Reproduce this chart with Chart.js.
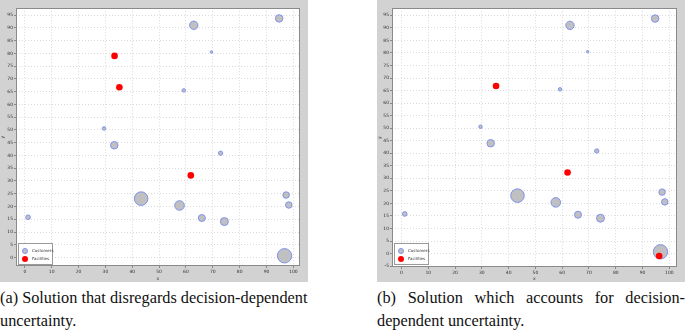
<!DOCTYPE html>
<html>
<head>
<meta charset="utf-8">
<script src="https://cdn.jsdelivr.net/npm/chart.js@4"></script>
<style>
  body { margin: 0; background: #fff; width: 685px; height: 333px; position: relative; overflow: hidden; }
  .frame { position: absolute; top: 0; width: 308px; height: 282px; background: #d2d2d2; }
  .frame canvas { position: absolute; left: 0; top: 0; }
  .legend { position: absolute; width: 33px; height: 20px; background: #fff; border: 1px solid #9a9a9a; font-family: "DejaVu Sans", sans-serif; font-size: 4px; color: #333; }
  .legend .item { position: absolute; left: 13px; line-height: 6px; }
  .legend .dot { position: absolute; left: 3px; width: 6px; height: 6px; border-radius: 50%; box-sizing: border-box; }
  .cap { position: absolute; top: 286px; width: 308px; font-family: "Liberation Serif", serif; font-size: 16.3px; line-height: 23px; color: #111; }
</style>
</head>
<body>
<div class="frame" style="left:0">
  <canvas id="chartA" width="308" height="282"></canvas>
  <div class="legend" style="left:18px; top:243px">
    <div class="dot" style="top:4px; background:#c0c0c0; border:1px solid #7f92ee"></div><div class="item" style="top:4px">Customers</div>
    <div class="dot" style="top:12px; background:#ff0000"></div><div class="item" style="top:12px">Facilities</div>
  </div>
</div>
<div class="frame" style="left:377px">
  <canvas id="chartB" width="308" height="282"></canvas>
  <div class="legend" style="left:17px; top:243px">
    <div class="dot" style="top:4px; background:#c0c0c0; border:1px solid #7f92ee"></div><div class="item" style="top:4px">Customers</div>
    <div class="dot" style="top:12px; background:#ff0000"></div><div class="item" style="top:12px">Facilities</div>
  </div>
</div>
<div class="cap" style="left:0">(a) Solution that disregards decision-dependent uncertainty.</div>
<div class="cap" style="left:377px; text-align:justify">(b) Solution which accounts for decision-dependent uncertainty.</div>

<script>
// customers (same in both solutions)
const custX = [1.2, 29.5, 33.3, 43.3, 57.6, 65.9, 74.3, 72.9, 97.3, 98.3, 96.7, 62.9, 94.7, 69.5, 59.2];
const custY = [15.8, 50.6, 44.0, 23.1, 20.4, 15.5, 14.1, 40.9, 24.5, 20.6, 0.7, 91.0, 93.7, 80.5, 65.5];
const custDemand = [8, 5, 18, 53, 28, 16, 20, 7, 14, 14, 59, 22, 18, 3, 5];

// facilities, solution (a) and (b)
const facAX = [33.4, 35.2, 61.8];
const facAY = [79.0, 66.7, 32.2];
const facBX = [35.3, 62.0, 96.2];
const facBY = [66.8, 32.3, -1.0];

const xTicks = [0, 10, 20, 30, 40, 50, 60, 70, 80, 90, 100];
const yTicksA = [0, 5, 10, 15, 20, 25, 30, 35, 40, 45, 50, 55, 60, 65, 70, 75, 80, 85, 90, 95];
const yTicksB = [-5, 0, 5, 10, 15, 20, 25, 30, 35, 40, 45, 50, 55, 60, 65, 70, 75, 80, 85, 90, 95];

const plotBorder = {
  id: 'plotBorder',
  afterDraw(chart) {
    const a = chart.chartArea, ctx = chart.ctx;
    ctx.save();
    ctx.strokeStyle = '#8a8a8a';
    ctx.lineWidth = 1;
    ctx.strokeRect(Math.round(a.left) + 0.5, Math.round(a.top) + 0.5, Math.round(a.right - a.left) - 1, Math.round(a.bottom - a.top) - 1);
    ctx.restore();
  }
};

const plotBg = {
  id: 'plotBg',
  beforeDraw(chart) {
    const a = chart.chartArea, ctx = chart.ctx;
    ctx.save();
    ctx.fillStyle = '#fff';
    ctx.fillRect(a.left, a.top, a.right - a.left, a.bottom - a.top);
    ctx.restore();
  }
};

function makeChart(id, facX, facY, yTicks, cfg) {
  const customers = custX.map((x, i) => ({ x: x, y: custY[i], r: Math.sqrt(custDemand[i]) - 0.5 }));
  const facilities = facX.map((x, i) => ({ x: x, y: facY[i], r: 3.3 }));
  const tickFont = { family: 'DejaVu Sans', size: 4.5 };
  return new Chart(document.getElementById(id), {
    type: 'bubble',
    data: {
      datasets: [
        { label: 'Customers', data: customers, backgroundColor: '#c0c0c0', borderColor: '#7f92ee', borderWidth: 1, order: 1 },
        { label: 'Facilities', data: facilities, backgroundColor: '#ff0000', borderColor: '#ff0000', borderWidth: 0, order: 0 }
      ]
    },
    options: {
      responsive: false,
      animation: false,
      layout: { padding: { top: 3, right: cfg.padRight, left: 0, bottom: 0 } },
      plugins: { legend: { display: false }, tooltip: { enabled: false } },
      scales: {
        x: {
          type: 'linear', min: cfg.xMin, max: cfg.xMax,
          afterBuildTicks: s => { s.ticks = xTicks.map(v => ({ value: v })); },
          afterFit: s => { s.height = cfg.xAxisH; },
          ticks: { font: tickFont, color: '#333', padding: 1, maxRotation: 0, autoSkip: false },
          grid: { color: '#dadada', tickLength: 2, tickColor: '#888' },
          border: { display: false, dash: [1, 2] },
          title: { display: true, text: 'x', font: { family: 'DejaVu Sans', size: 4.5 }, color: '#333', padding: 0 }
        },
        y: {
          type: 'linear', min: cfg.yMin, max: cfg.yMax,
          afterBuildTicks: s => { s.ticks = yTicks.map(v => ({ value: v })); },
          afterFit: s => { s.width = cfg.yAxisW; },
          ticks: { font: tickFont, color: '#333', padding: 1, autoSkip: false },
          grid: { color: '#dadada', tickLength: 2, tickColor: '#888' },
          border: { display: false, dash: [1, 2] },
          title: { display: true, text: 'y', font: { family: 'DejaVu Sans', size: 4.5 }, color: '#333', padding: 0 }
        }
      }
    },
    plugins: [plotBg, plotBorder]
  });
}

makeChart('chartA', facAX, facAY, yTicksA, { xMin: -3.3, xMax: 102.4, yMin: -3.3, yMax: 97.7, padRight: 3, xAxisH: 16, yAxisW: 16 });
makeChart('chartB', facBX, facBY, yTicksB, { xMin: -3.56, xMax: 102.8, yMin: -5.36, yMax: 97.85, padRight: 3, xAxisH: 15, yAxisW: 15 });
</script>
</body>
</html>
